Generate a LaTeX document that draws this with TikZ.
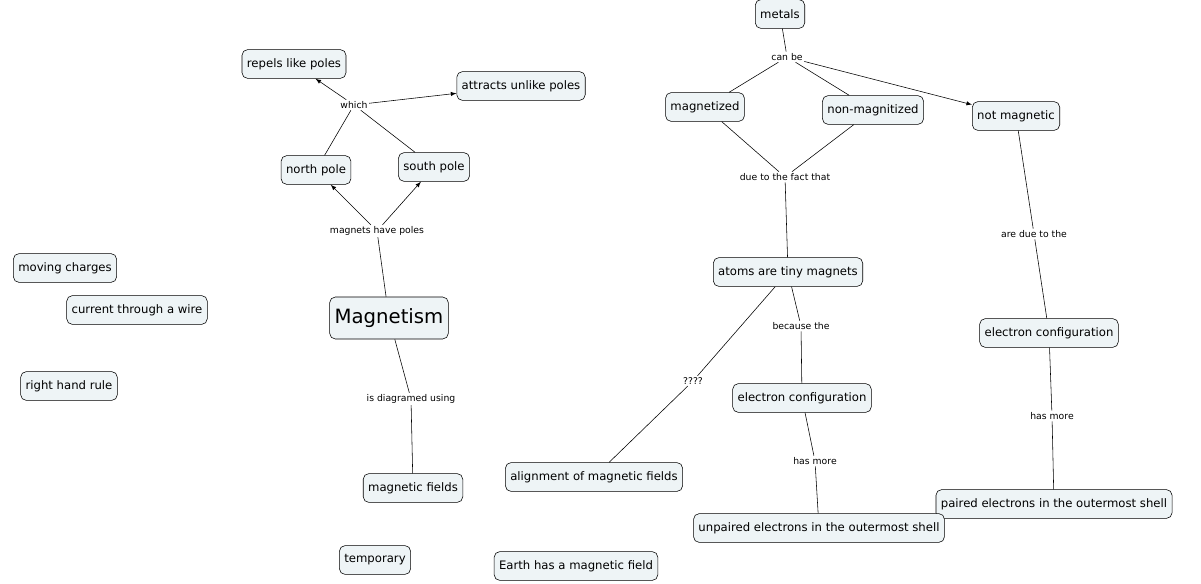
\documentclass[tikz,border=0pt]{standalone}
\usepackage{fontspec}
\setmainfont{DejaVu Sans}
\definecolor{conceptFill}{HTML}{EEF4F6}

\begin{document}
\begin{tikzpicture}
[concept/.style={shape=rectangle,rounded corners=4pt,draw,fill=conceptFill,
   font=\fontsize{8.3}{10}\selectfont,inner sep=3.5pt,minimum height=0.72cm},
  linkLabel/.style={fill=white,inner sep=1pt,font=\fontsize{6.6}{8}\selectfont},
  lineDecorate/.style={-,thin},
  arrowDecorate/.style={-latex,thin},
  x=0.025cm,y=-0.025cm]
\useasboundingbox (0,0) rectangle (1201,584);
%% concepts
\foreach \nodename/\x/\y/\txt in {
  metals/780/14/metals,
  repels/294/64/repels like poles,
  attracts/521/86/attracts unlike poles,
  magnetized/705/107/magnetized,
  nonmag/873/110/non-magnitized,
  notmag/1016/116/not magnetic,
  north/316/170/north pole,
  south/434/167/south pole,
  moving/65/268/moving charges,
  atoms/788/272/atoms are tiny magnets,
  current/137/310/current through a wire,
  confR/1049/333/electron configuration,
  rhr/69/386/right hand rule,
  confM/802/398/electron configuration,
  alignment/594/477/alignment of magnetic fields,
  fields/413/488/magnetic fields,
  paired/1054/504/paired electrons in the outermost shell,
  unpaired/819/528/unpaired electrons in the outermost shell,
  temporary/375/560/temporary,
  earth/576/566/Earth has a magnetic field}
{
  \node (\nodename) at (\x,\y) [concept] {\txt};
}
\node (magnetism) at (389,318) [concept,font=\fontsize{14}{16}\selectfont,minimum height=1.05cm] {Magnetism};
%% linking phrases
\foreach \nodename/\x/\y/\txt in {
  canbe/787/57/can be,
  which/354/105/which,
  duefact/785/177/due to the fact that,
  haspoles/377/231/magnets have poles,
  aredue/1034/234/are due to the,
  because/801/326/because the,
  unknown/693/381/????,
  diagramed/411/399/is diagramed using,
  hasmoreR/1052/416/has more,
  hasmoreM/815/461/has more}
{
  \node (\nodename) at (\x,\y) [linkLabel] {\txt};
}
%% connections
\foreach \startnode/\endnode in {
  metals/canbe, canbe/magnetized, canbe/nonmag, north/which, south/which,
  magnetized/duefact, nonmag/duefact, duefact/atoms, magnetism/haspoles,
  magnetism/diagramed, diagramed/fields, notmag/aredue, aredue/confR,
  confR/hasmoreR, hasmoreR/paired, atoms/because, because/confM,
  confM/hasmoreM, hasmoreM/unpaired, atoms/unknown, unknown/alignment}
{
  \draw[lineDecorate] (\startnode) -- (\endnode);
}
\foreach \startnode/\endnode in {
  canbe/notmag, which/repels, which/attracts, haspoles/north, haspoles/south}
{
  \draw[arrowDecorate] (\startnode) -- (\endnode);
}
\end{tikzpicture}
\end{document}
